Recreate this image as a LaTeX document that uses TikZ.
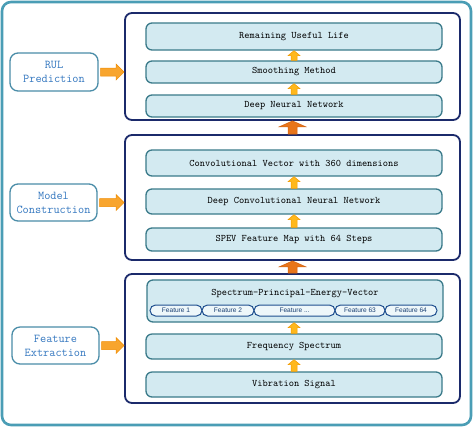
\documentclass[tikz,border=0pt]{standalone}
\usepackage{fontspec}
\newfontfamily\featfont{Liberation Sans}
\usetikzlibrary{calc}
\definecolor{frameC}{HTML}{4A9DB5}
\definecolor{groupC}{HTML}{1B2A6B}
\definecolor{innerF}{HTML}{D3EAF1}
\definecolor{innerD}{HTML}{3A7A8A}
\definecolor{labelD}{HTML}{4A8DA8}
\definecolor{labelT}{HTML}{3578C0}
\definecolor{pillD}{HTML}{1F4F8F}
\definecolor{pillF}{HTML}{EEF7FA}
\definecolor{smallA}{HTML}{FFB81C}
\definecolor{smallAD}{HTML}{F29B00}
\definecolor{bigA}{HTML}{E8751A}
\definecolor{bigAD}{HTML}{D0620F}
\definecolor{sideA}{HTML}{F8A52E}
\definecolor{sideAD}{HTML}{F08C00}
\newcommand\myvarrow[6]{\draw[#1] let \p1=(#2), \p2=(#3) in
  (\x1-#4,\y1) -- (\x1-#4,\y2-#6) -- (\x1-#5,\y2-#6) -- (\x1,\y2) --
  (\x1+#5,\y2-#6) -- (\x1+#4,\y2-#6) -- (\x1+#4,\y1) -- cycle;}
\newcommand\myharrow[6]{\draw[#1] let \p1=(#2), \p2=(#3) in
  (\x1+2bp,\y1-#4) -- (\x2-#6,\y1-#4) -- (\x2-#6,\y1-#5) -- (\x2,\y1) --
  (\x2-#6,\y1+#5) -- (\x2-#6,\y1+#4) -- (\x1+2bp,\y1+#4) -- cycle;}
\begin{document}
\begin{tikzpicture}[x=1bp,y=-1bp,
  frame/.style={draw=frameC, line width=2.6bp, rounded corners=9bp},
  groupbox/.style={draw=groupC, line width=1.8bp, rounded corners=7bp, minimum width=335bp, inner sep=0pt},
  innerbox/.style={draw=innerD, fill=innerF, line width=1.3bp, rounded corners=6bp, minimum width=296bp, inner sep=0pt, font=\ttfamily\fontsize{10}{12}\selectfont, text=black},
  labelbox/.style={draw=labelD, fill=white, line width=1.3bp, rounded corners=8bp, inner sep=0pt, align=center, text=labelT, font=\ttfamily\fontsize{12}{14}\selectfont},
  pill/.style={draw=pillD, fill=pillF, line width=1bp, rounded corners=5.5bp, minimum height=11bp, inner sep=0pt, font=\featfont\fontsize{6.6}{7}\selectfont, text=pillD!80!black},
  smallarr/.style={fill=smallA, draw=smallAD, line width=0.5bp},
  bigarr/.style={fill=bigA, draw=bigAD, line width=0.5bp},
  sidearr/.style={fill=sideA, draw=sideAD, line width=0.5bp}]
\useasboundingbox (0,0) rectangle (474,427);
\fill[white] (0,0) rectangle (474,427);
\draw[frame] (2,2) rectangle (471,425);
% groups
\node[groupbox, minimum height=107bp] (g1) at (292.5,66.5) {};
\node[groupbox, minimum height=125bp] (g2) at (292.5,197.5) {};
\node[groupbox, minimum height=129bp] (g3) at (292.5,338.5) {};
% group 1
\node[innerbox, minimum height=27bp] (rul) at (294,36.5) {Remaining Useful Life};
\node[innerbox, minimum height=22bp] (smooth) at (294,72) {Smoothing Method};
\node[innerbox, minimum height=22bp] (dnn) at (294,106) {Deep Neural Network};
% group 2
\node[innerbox, minimum height=26bp] (conv) at (294,163) {Convolutional Vector with 360 dimensions};
\node[innerbox, minimum height=25bp] (dcnn) at (294,201.5) {Deep Convolutional Neural Network};
\node[innerbox, minimum height=23bp] (spevmap) at (294,239.5) {SPEV Feature Map with 64 Steps};
% group 3
\node[innerbox, minimum height=42bp] (spev) at (295,301) {};
\node[font=\ttfamily\fontsize{10}{12}\selectfont, text=black, inner sep=0pt] (spevt) at (295,293.5) {Spectrum-Principal-Energy-Vector};
\node[pill, minimum width=52bp] (f1) at (176,310.5) {Feature 1};
\node[pill, minimum width=52bp] (f2) at (228,310.5) {Feature 2};
\node[pill, minimum width=81bp] (fd) at (294.5,310.5) {Feature ...};
\node[pill, minimum width=50bp] (f63) at (360,310.5) {Feature 63};
\node[pill, minimum width=52bp] (f64) at (411,310.5) {Feature 64};
\node[innerbox, minimum height=25bp] (freq) at (294,346.5) {Frequency Spectrum};
\node[innerbox, minimum height=25bp] (vib) at (294,384.5) {Vibration Signal};
% labels
\node[labelbox, minimum width=88bp, minimum height=38bp] (lrul) at (54,72) {RUL\\Prediction};
\node[labelbox, minimum width=87bp, minimum height=37bp] (lmodel) at (53.5,202.5) {Model\\Construction};
\node[labelbox, minimum width=87bp, minimum height=37bp] (lfeat) at (55.5,345.5) {Feature\\Extraction};
% small arrows
\myvarrow{smallarr}{smooth.north}{rul.south}{3bp}{6bp}{5bp}
\myvarrow{smallarr}{dnn.north}{smooth.south}{3bp}{6bp}{5bp}
\myvarrow{smallarr}{dcnn.north}{conv.south}{3bp}{6bp}{5bp}
\myvarrow{smallarr}{spevmap.north}{dcnn.south}{3bp}{6bp}{5bp}
\myvarrow{smallarr}{freq.north}{spev.south}{3bp}{6bp}{5bp}
\myvarrow{smallarr}{vib.north}{freq.south}{3bp}{6bp}{5bp}
% big arrows
\myvarrow{bigarr}{g2.north}{g1.south}{4.5bp}{13.5bp}{6bp}
\myvarrow{bigarr}{g3.north}{g2.south}{4.5bp}{13.5bp}{6bp}
% side arrows
\myharrow{sidearr}{lrul.east}{g1.west}{4bp}{8bp}{8bp}
\myharrow{sidearr}{lmodel.east}{g2.west}{4bp}{8bp}{8bp}
\myharrow{sidearr}{lfeat.east}{g3.west}{4bp}{8bp}{8bp}
\end{tikzpicture}
\end{document}
